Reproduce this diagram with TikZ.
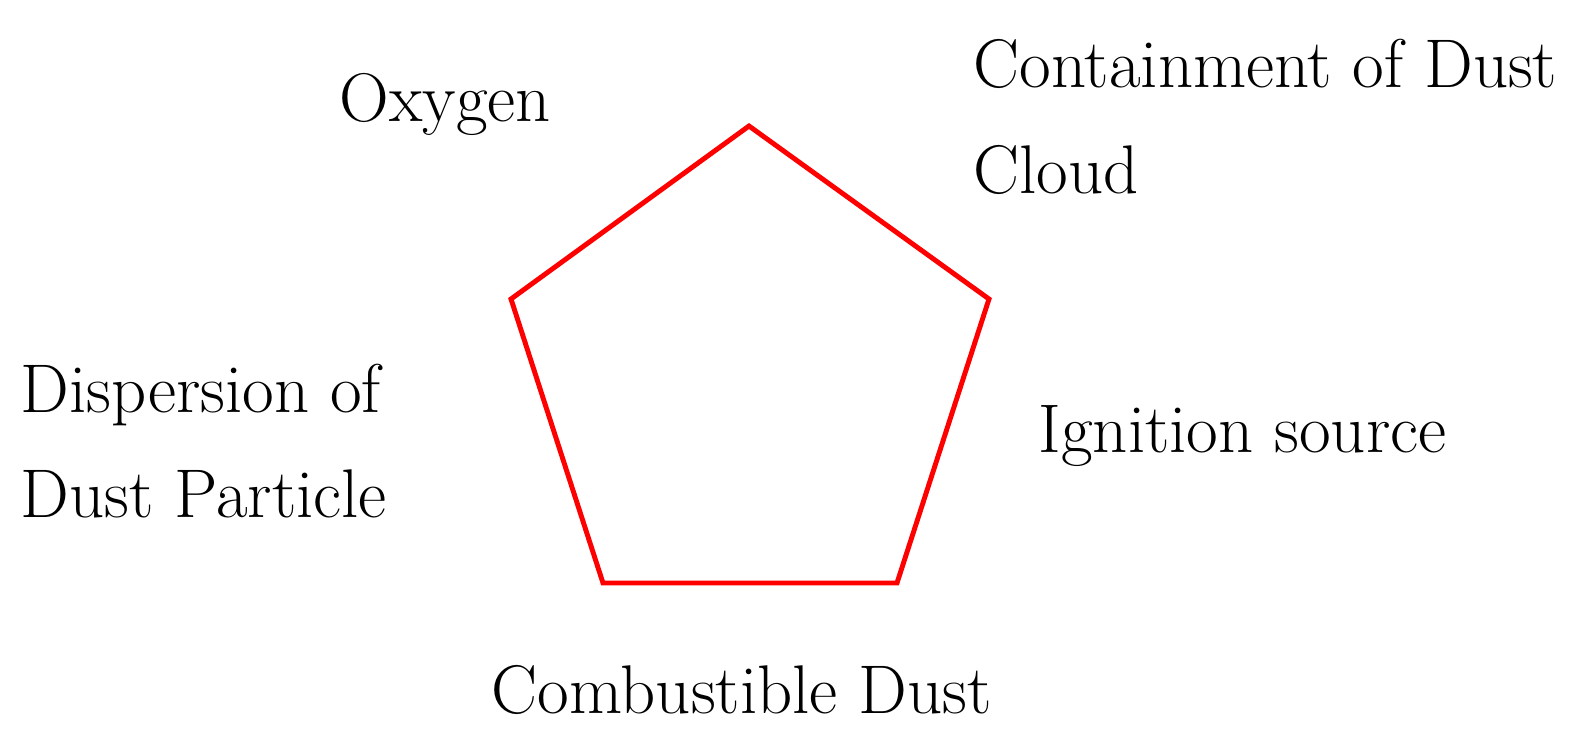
\documentclass[tikz,border=0pt]{standalone}
\usepackage{tikz}
\usetikzlibrary{positioning}
\usetikzlibrary{calc}

\tikzset{
  side/.style={draw=red, line width=1.4pt, line join=miter},
  factor/.style={anchor=base west, inner sep=0pt, font=\fontsize{19.6}{22}\selectfont}
}

\begin{document}
\begin{tikzpicture}
\useasboundingbox (0,0) rectangle (15.81,7.41);

\coordinate (top) at (7.49,6.15);
\coordinate (right) at (9.89,4.42);
\coordinate (botR) at (8.97,1.58);
\coordinate (botL) at (6.03,1.58);
\coordinate (left) at (5.11,4.42);

\draw[side] (top) -- (right) -- (botR) -- (botL) -- (left) -- cycle;

\node[factor](oxygen) at (3.39,6.20){Oxygen};
\node[factor](contain) at (9.73,6.54){Containment of Dust};
\node[factor](cloud) at (9.73,5.48){Cloud};
\node[factor](ignition) at (10.38,2.89){Ignition source};
\node[factor](dispersion) at (0.20,3.29){Dispersion of};
\node[factor](particle) at (0.20,2.24){Dust Particle};
\node[factor](fuel) at (4.91,0.28){Combustible Dust};
\end{tikzpicture}
\end{document}
